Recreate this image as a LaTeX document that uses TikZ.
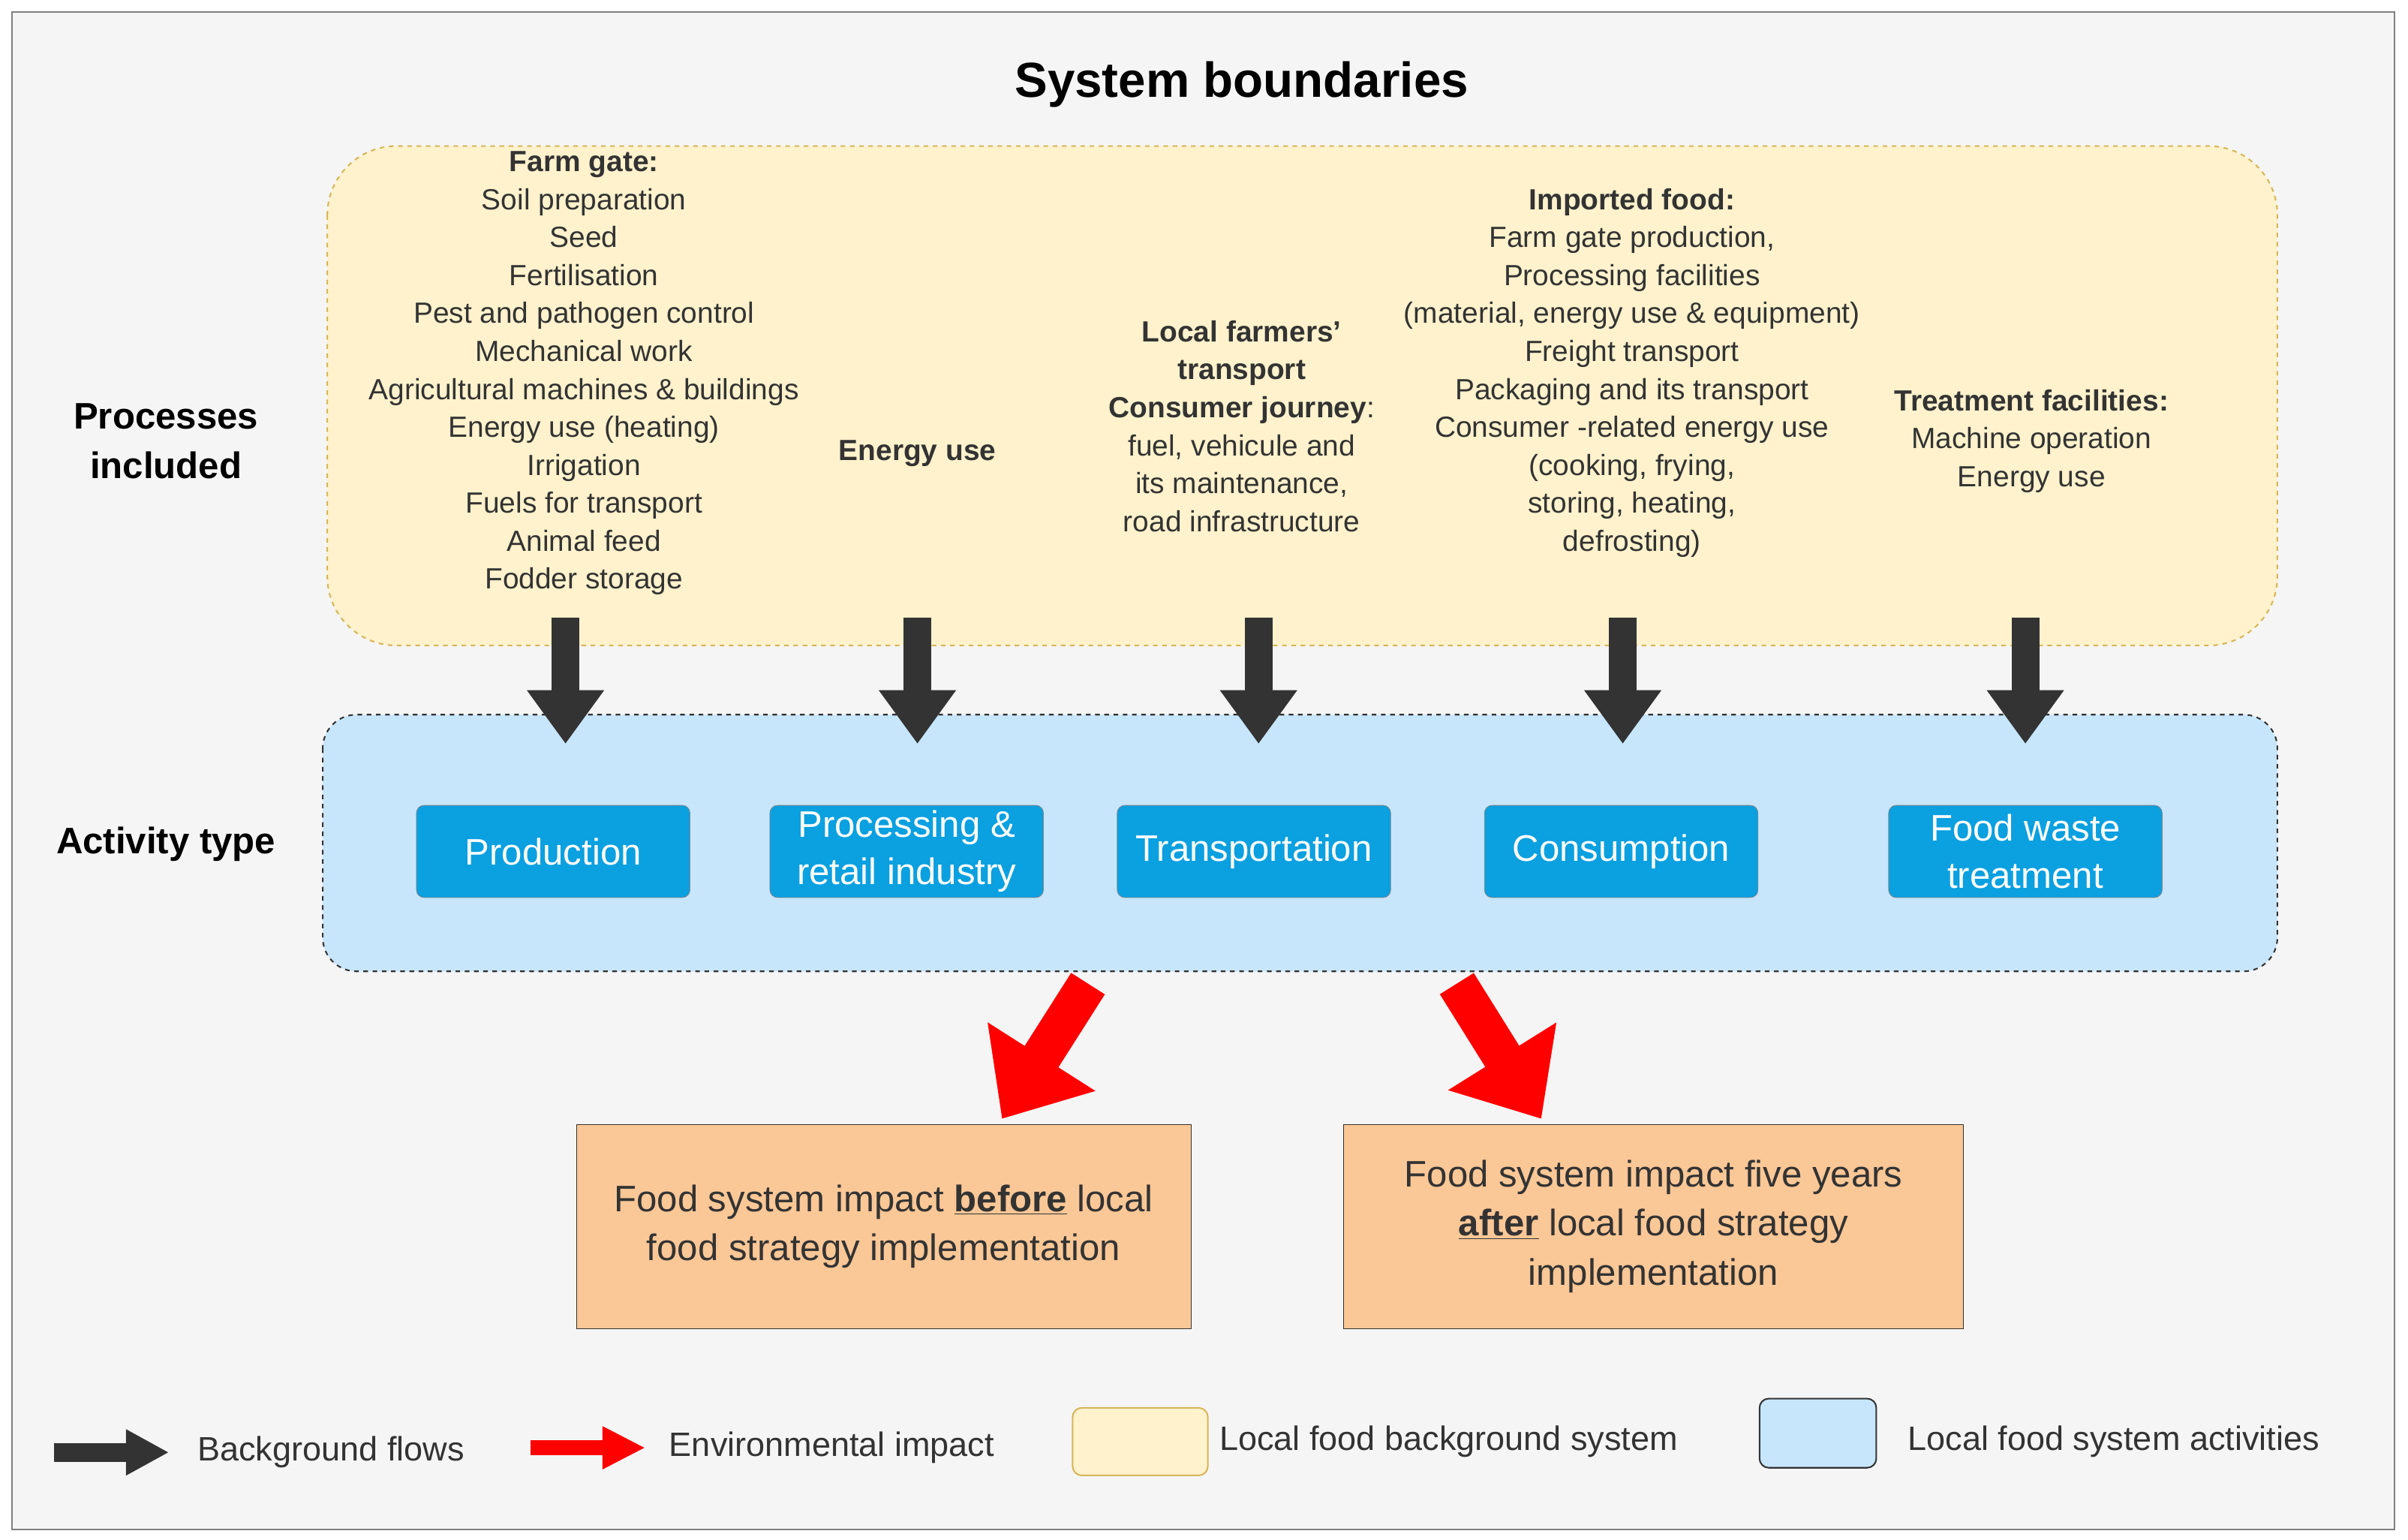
\documentclass[tikz,border=0pt]{standalone}
\usepackage{fontspec}
\setmainfont{Liberation Sans}
\usetikzlibrary{arrows.meta}
\definecolor{yfill}{HTML}{FFF2CC}\definecolor{ydraw}{HTML}{D6B656}
\definecolor{bfill}{HTML}{C7E6FC}\definecolor{bnode}{HTML}{0BA0E0}
\definecolor{ofill}{HTML}{FAC796}\definecolor{dark}{HTML}{333333}
\begin{document}
\begin{tikzpicture}[x=1pt,y=-1pt,
 txt/.style={align=center,font=\fontsize{19}{24.7}\selectfont,text=dark},
 lab/.style={align=center,font=\fontsize{24}{32}\selectfont\bfseries},
 act/.style={draw=dark!60,fill=bnode,rounded corners=5pt,minimum width=178pt,minimum height=60pt,text=white,align=center,font=\fontsize{24}{31}\selectfont,inner sep=1pt},
 res/.style={draw=dark,fill=ofill,minimum width=400pt,minimum height=133pt,align=center,font=\fontsize{24}{32}\selectfont,text=dark},
 blk/.style={draw=dark,line width=18pt,-{Triangle[width=48pt,length=35pt]}},
 red/.style={draw=red,line width=26pt,-{Triangle[width=80pt,length=48pt]}},
 lblk/.style={draw=dark,line width=12pt,-{Triangle[width=28pt,length=28pt]}},
 lred/.style={draw=red,line width=10pt,-{Triangle[width=26pt,length=28pt]}},
 leg/.style={anchor=west,font=\fontsize{22}{26}\selectfont,text=dark}]
\useasboundingbox (0,0) rectangle (1567,1002);
\fill[white] (0,0) rectangle (1567,1002);
\draw[gray,fill=black!4,line width=1pt] (8,8) rectangle (1558,995);
\node[font=\fontsize{32}{38}\selectfont\bfseries] (title) at (808,55) {System boundaries};
\draw[ydraw,dashed,fill=yfill,rounded corners=45pt,line width=1pt] (213,95) rectangle (1482,420);
\draw[dark,dashed,fill=bfill,rounded corners=22pt,line width=1pt] (210,465) rectangle (1482,632);
\node[lab] (pi) at (108,287) {Processes\\included};
\node[lab] (at) at (108,549) {Activity type};
\node[txt,anchor=north] (farm) at (380,95) {\textbf{Farm gate:}\\Soil preparation\\Seed\\Fertilisation\\Pest and pathogen control\\Mechanical work\\Agricultural machines \& buildings\\Energy use (heating)\\Irrigation\\Fuels for transport\\Animal feed\\Fodder storage};
\node[txt] (en) at (597,295) {\textbf{Energy use}};
\node[txt,anchor=north] (tr) at (808,205) {\textbf{Local farmers'}\\\textbf{transport}\\\textbf{Consumer journey}:\\fuel, vehicule and\\its maintenance,\\road infrastructure};
\node[txt,anchor=north] (imp) at (1062,119) {\textbf{Imported food:}\\Farm gate production,\\Processing facilities\\(material, energy use \& equipment)\\Freight transport\\Packaging and its transport\\Consumer -related energy use\\(cooking, frying,\\storing, heating,\\defrosting)};
\node[txt,anchor=north] (trt) at (1322,250) {\textbf{Treatment facilities:}\\Machine operation\\Energy use};
\node[act] (p1) at (360,554) {Production};
\node[act] (p2) at (590,554) {Processing \&\\retail industry};
\node[act] (p3) at (816,554) {Transportation};
\node[act] (p4) at (1055,554) {Consumption};
\node[act] (p5) at (1318,554) {Food waste\\treatment};
\foreach \x/\n in {368/a,597/b,819/c,1056/d,1318/e}{
 \coordinate (s\n) at (\x,402); \coordinate (t\n) at (\x,484);
 \draw[blk] (s\n) -- (t\n);}
\node[res] (r1) at (575,798) {Food system impact \underline{\textbf{before}} local\\food strategy implementation};
\node[res,minimum width=403pt] (r2) at (1076,798) {Food system impact five years\\\underline{\textbf{after}} local food strategy\\implementation};
\coordinate (ra) at (708,640); \coordinate (rb) at (652,728);
\coordinate (rc) at (948,640); \coordinate (rd) at (1003,728);
\draw[red] (ra) -- (rb); \draw[red] (rc) -- (rd);
\coordinate (l1) at (35,945); \coordinate (l2) at (110,945);
\draw[lblk] (l1) -- (l2);
\node[leg] (lt1) at (125,945) {Background flows};
\coordinate (l3) at (345,942); \coordinate (l4) at (420,942);
\draw[lred] (l3) -- (l4);
\node[leg] (lt2) at (432,942) {Environmental impact};
\draw[ydraw,fill=yfill,rounded corners=6pt,line width=1pt] (698,916) rectangle (786,960);
\node[leg] (lt3) at (790,938) {Local food background system};
\draw[dark,fill=bfill,rounded corners=6pt,line width=1pt] (1145,910) rectangle (1221,955);
\node[leg] (lt4) at (1238,938) {Local food system activities};
\end{tikzpicture}
\end{document}
